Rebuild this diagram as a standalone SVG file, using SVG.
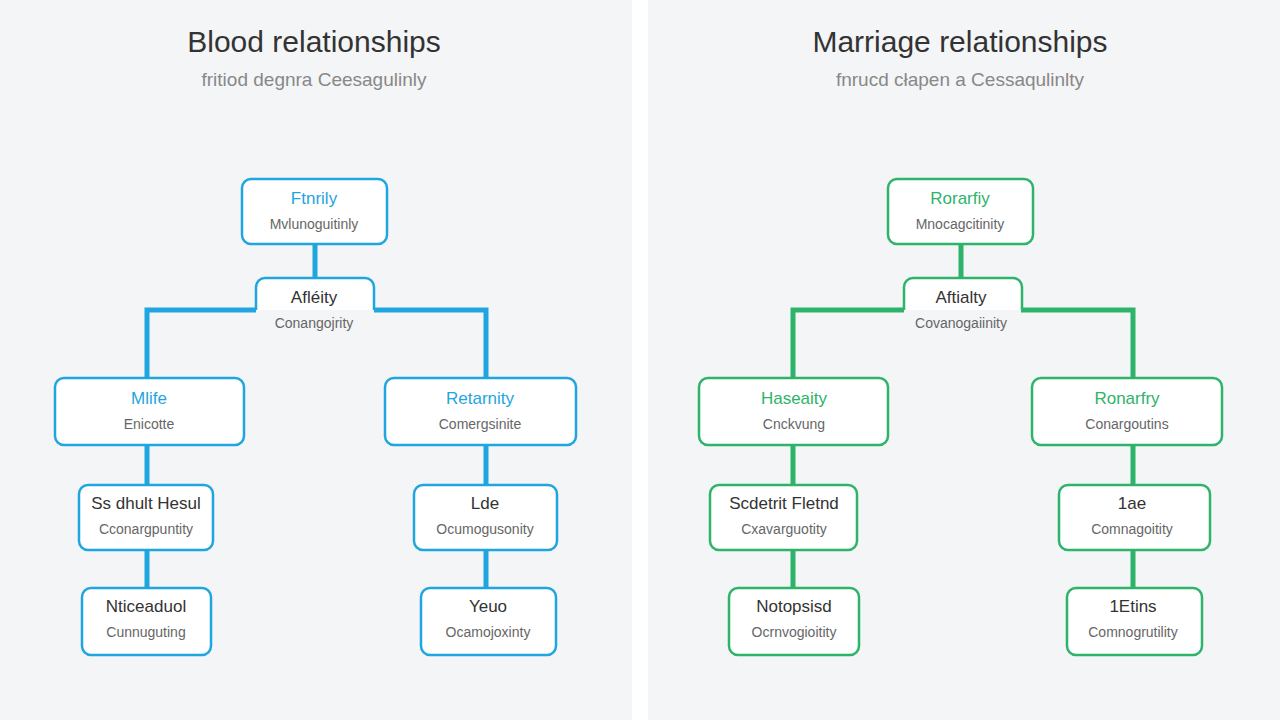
<svg xmlns="http://www.w3.org/2000/svg" width="1280" height="720" viewBox="0 0 1280 720">
<style>
.bg{fill:#f4f5f6}
.t{font-family:"Liberation Sans",Arial,sans-serif;font-size:30px;fill:#333;text-anchor:middle}
.st{font-family:"Liberation Sans",Arial,sans-serif;font-size:19px;fill:#888;text-anchor:middle}
.b rect{fill:#fff;stroke:#1fa5e0;stroke-width:2.5}
.g rect{fill:#fff;stroke:#2eb36a;stroke-width:2.5}
.b .h{fill:#1fa5e0}.g .h{fill:#2eb36a}
.h,.n{font-family:"Liberation Sans",Arial,sans-serif;font-size:17px;text-anchor:middle}
.n{fill:#333}
.s{font-family:"Liberation Sans",Arial,sans-serif;font-size:14px;fill:#666;text-anchor:middle}
.cb{stroke:#1fa5e0;stroke-width:5;fill:none}
.cg{stroke:#2eb36a;stroke-width:5;fill:none}
</style>
<rect width="1280" height="720" fill="#fff"/>
<rect class="bg" x="0" y="0" width="632" height="720"/>
<rect class="bg" x="648" y="0" width="632" height="720"/>
<text class="t" x="314" y="52">Blood relationships</text>
<text class="st" x="314" y="86">fritiod degnra Ceesagulinly</text>
<text class="t" x="960" y="52">Marriage relationships</text>
<text class="st" x="960" y="86">fnrucd cłapen a Cessaqulinlty</text>
<g id="connectors">
<path class="cb" d="M315 244V280M256 310H147V378M374 310H486V378M147 445V485M486 445V485M147 550V588M486 550V588"/>
<path class="cg" d="M961 244V280M904 310H793V378M1021 310H1133V378M793 445V485M1133 445V485M793 550V588M1133 550V588"/>
</g>
<g class="b">
<g id="b-top"><rect x="242" y="179" width="145" height="65" rx="9"/><text class="h" x="314" y="204">Ftnrily</text><text class="s" x="314" y="229">Mvlunoguitinly</text></g>
<g id="b-aff"><path d="M256 310V287a9 9 0 0 1 9-9h100a9 9 0 0 1 9 9V310" fill="#fff" stroke="#1fa5e0" stroke-width="2.5"/><text class="n" x="314" y="303">Afléity</text><text class="s" x="314" y="328">Conangojrity</text></g>
<g id="b-l2"><rect x="55" y="378" width="189" height="67" rx="9"/><text class="h" x="149" y="404">Mlife</text><text class="s" x="149" y="429">Enicotte</text></g>
<g id="b-r2"><rect x="385" y="378" width="191" height="67" rx="9"/><text class="h" x="480" y="404">Retarnity</text><text class="s" x="480" y="429">Comergsinite</text></g>
<g id="b-l3"><rect x="79" y="485" width="134" height="65" rx="9"/><text class="n" x="146" y="509">Ss dhult Hesul</text><text class="s" x="146" y="534">Cconargpuntity</text></g>
<g id="b-r3"><rect x="414" y="485" width="143" height="65" rx="9"/><text class="n" x="485" y="509">Lde</text><text class="s" x="485" y="534">Ocumogusonity</text></g>
<g id="b-l4"><rect x="82" y="588" width="129" height="67" rx="9"/><text class="n" x="146" y="612">Nticeaduol</text><text class="s" x="146" y="637">Cunnuguting</text></g>
<g id="b-r4"><rect x="421" y="588" width="135" height="67" rx="9"/><text class="n" x="488" y="612">Yeuo</text><text class="s" x="488" y="637">Ocamojoxinty</text></g>
</g>
<g class="g">
<g id="g-top"><rect x="888" y="179" width="145" height="65" rx="9"/><text class="h" x="960" y="204">Rorarfiy</text><text class="s" x="960" y="229">Mnocagcitinity</text></g>
<g id="g-aff"><path d="M904 310V287a9 9 0 0 1 9-9h100a9 9 0 0 1 9 9V310" fill="#fff" stroke="#2eb36a" stroke-width="2.5"/><text class="n" x="961" y="303">Aftialty</text><text class="s" x="961" y="328">Covanogaiinity</text></g>
<g id="g-l2"><rect x="699" y="378" width="189" height="67" rx="9"/><text class="h" x="794" y="404">Haseaity</text><text class="s" x="794" y="429">Cnckvung</text></g>
<g id="g-r2"><rect x="1032" y="378" width="190" height="67" rx="9"/><text class="h" x="1127" y="404">Ronarfry</text><text class="s" x="1127" y="429">Conargoutins</text></g>
<g id="g-l3"><rect x="710" y="485" width="147" height="65" rx="9"/><text class="n" x="784" y="509">Scdetrit Fletnd</text><text class="s" x="784" y="534">Cxavarguotity</text></g>
<g id="g-r3"><rect x="1059" y="485" width="151" height="65" rx="9"/><text class="n" x="1132" y="509">1ae</text><text class="s" x="1132" y="534">Comnagoitity</text></g>
<g id="g-l4"><rect x="729" y="588" width="130" height="67" rx="9"/><text class="n" x="794" y="612">Notopsisd</text><text class="s" x="794" y="637">Ocrnvogioitity</text></g>
<g id="g-r4"><rect x="1067" y="588" width="135" height="67" rx="9"/><text class="n" x="1133" y="612">1Etins</text><text class="s" x="1133" y="637">Comnogrutility</text></g>
</g>
</svg>
